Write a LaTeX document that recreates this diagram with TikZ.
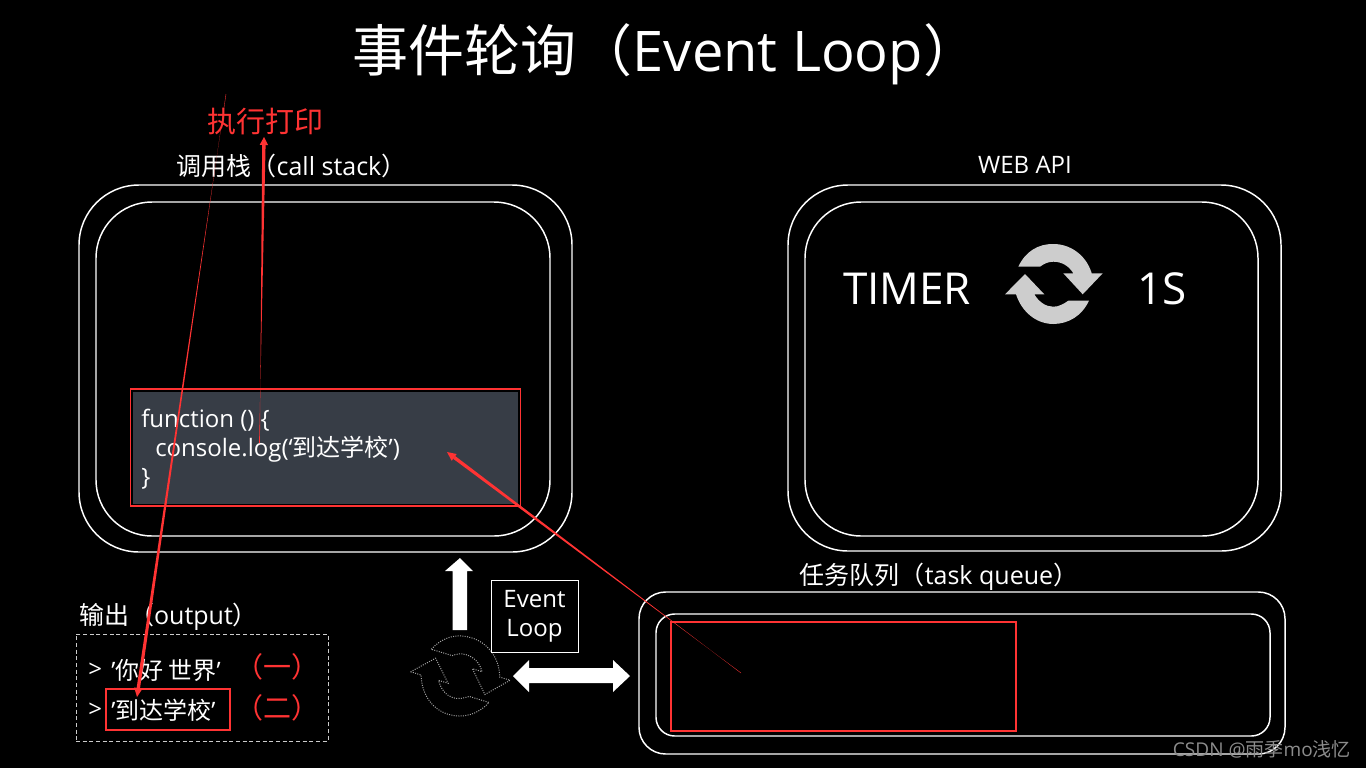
\documentclass[tikz,border=0pt]{standalone}
\usepackage{fontspec}
\setmainfont{Open Sans}
\newfontfamily\cjk{Noto Sans CJK SC}
\usetikzlibrary{calc}
\definecolor{redline}{HTML}{FF3333}
\definecolor{codebg}{HTML}{373D46}
\definecolor{icongrey}{HTML}{CDCDCD}
\def\u{0.75pt}
\newcommand{\fs}[1]{\fontsize{\the\dimexpr #1pt*3/4\relax}{\the\dimexpr #1pt*9/10\relax}\selectfont}
\newcommand{\cj}[1]{{\cjk #1}}
\newcommand{\iconpath}{
  (-35.5,-17.1) .. controls (-28,-33) and (-15,-40) .. (-0.5,-39.8)
  .. controls (15,-40) and (32,-30) .. (37.9,-10.5)
  -- (48.9,-10.5) -- (28.9,10.5) -- (9.5,-10.5) -- (19.5,-10.5)
  .. controls (15,-18) and (8,-22) .. (-0.5,-22.1)
  .. controls (-6,-22) and (-10,-20) .. (-13.8,-17.1) -- cycle
  (-48.8,10.5) -- (-28.8,-9.8) -- (-9.5,10.5) -- (-19.5,10.5)
  .. controls (-15,18) and (-8,23) .. (-0.5,22.9)
  .. controls (5,23) and (10,20) .. (14.5,16.9)
  -- (35.2,16.9) .. controls (28,32) and (15,40) .. (-0.5,40.2)
  .. controls (-18,40) and (-32,28) .. (-37.8,10.5) -- cycle}
% tapered arrow: start, tip, start half width, end half width, head half width, head length
\newcommand{\taperarrow}[6]{
  \coordinate (hb) at ($(#2)!#6*\u!(#1)$);
  \fill[redline] ($(#1)!#3*\u!90:(#2)$) -- ($(hb)!#4*\u!-90:(#2)$) -- ($(hb)!#4*\u!90:(#2)$) -- ($(#1)!#3*\u!-90:(#2)$) -- cycle;
  \fill[redline] (#2) -- ($(hb)!#5*\u!90:(#2)$) -- ($(hb)!#5*\u!-90:(#2)$) -- cycle;
}
\tikzset{
  panel/.style={draw=white,line width=1.1pt,inner sep=0pt,rectangle},
  redbox/.style={draw=redline,line width=0.8pt,inner sep=0pt,rectangle},
  label/.style={text=white,inner sep=0pt},
  redlabel/.style={text=redline,inner sep=0pt},
}
\begin{document}
\begin{tikzpicture}[x=0.75pt,y=-0.75pt]
\useasboundingbox (0,0) rectangle (1366,768);
\fill[black] (0,0) rectangle (1366,768);

% title
\node[label,font=\fs{56}] (title) at (666,54) {\cj{事件轮询（}Event Loop\cj{）}};

% panels
\node[panel,rounded corners=45pt,minimum width=493*\u,minimum height=367*\u] (stackouter) at (325.5,368.5) {};
\node[panel,rounded corners=42pt,minimum width=454*\u,minimum height=334*\u] (stackinner) at (323,369) {};
\node[panel,rounded corners=45pt,minimum width=493*\u,minimum height=366*\u] (webouter) at (1034.5,368) {};
\node[panel,rounded corners=42pt,minimum width=453*\u,minimum height=334*\u] (webinner) at (1031.5,369) {};
\node[panel,rounded corners=20pt,minimum width=646*\u,minimum height=162*\u] (queueouter) at (962,673) {};
\node[panel,rounded corners=14pt,minimum width=614*\u,minimum height=122*\u] (queueinner) at (963,675) {};
\node[redbox,minimum width=345*\u,minimum height=109*\u] (queuered) at (843.5,676.5) {};

% panel headings
\node[label,font=\fs{25}] (stacklabel) at (291.5,166) {\cj{调用栈（}call stack\cj{）}};
\node[label,font=\fs{24}] (weblabel) at (1025,165) {WEB API};
\node[label,font=\fs{25}] (queuelabel) at (939,577) {\cj{任务队列（}task queue\cj{）}};
\node[label,font=\fs{25}] (outputlabel) at (168.5,617) {\cj{输出（}output\cj{）}};

% code block
\node[fill=codebg,draw=none,inner sep=0pt,rectangle,minimum width=385*\u,minimum height=112*\u] (codefill) at (325.5,447.5) {};
\node[redbox,minimum width=390*\u,minimum height=117*\u] (codebox) at (325.5,447.5) {};
\node[label,font=\fs{24},anchor=west,align=left] (code) at (141,449) {\fontsize{18pt}{23.25pt}\selectfont function () \{\\\hspace*{10.5pt}console.log(‘\cj{到达学校}’)\\\}};

% web api content
\node[label,font=\fs{44}] (timer) at (907,289) {TIMER};
\node[label,font=\fs{44}] (onesec) at (1162,289) {1S};
\fill[icongrey,shift={(1053.8,283.8)}] \iconpath;

% output
\node[draw=white!80!black,densely dashed,line width=0.6pt,inner sep=0pt,rectangle,minimum width=252*\u,minimum height=107*\u] (outputbox) at (202,687.5) {};
\node[label,font=\fs{24},anchor=west] (gt1) at (88,670) {>};
\node[label,font=\fs{24},anchor=west] (out1) at (111,670) {’\cj{你好 世界}’};
\node[label,font=\fs{24},anchor=west] (gt2) at (88,710) {>};
\node[label,font=\fs{24},anchor=west] (out2) at (111,710) {’\cj{到达学校}’};
\node[redbox,minimum width=124*\u,minimum height=41*\u] (outred) at (168,709.5) {};
\node[redlabel,font=\fs{28}] (step1) at (277,667) {\cj{（一）}};
\node[redlabel,font=\fs{28}] (step2) at (277,708) {\cj{（二）}};

% event loop
\begin{scope}[shift={(460.3,676)},rotate=-17]
\draw[icongrey!80!black,densely dotted,line width=0.75pt] \iconpath;
\end{scope}
\node[draw=white,line width=0.75pt,text=white,font=\fs{24},align=center,inner sep=0pt,rectangle,minimum width=87*\u,minimum height=72*\u] (eventloop) at (534.5,616) {\fontsize{18pt}{23.25pt}\selectfont Event\\Loop};
\fill[white] (460,558) -- (473,571) -- (467,571) -- (467,630) -- (452.5,630) -- (452.5,571) -- (445,571) -- cycle;
\fill[white] (513,676) -- (529,660) -- (529,668) -- (613,668) -- (613,660) -- (630,676) -- (613,692) -- (613,683) -- (529,683) -- (529,692) -- cycle;

% red connectors
\node[redlabel,font=\fs{29}] (print) at (265,122) {\cj{执行打印}};
\coordinate (logstart) at (259.5,443);
\coordinate (printtip) at (264,137);
\taperarrow{logstart}{printtip}{0.4}{1.7}{4.2}{8}
\coordinate (thinstart) at (226,94);
\coordinate (thintip) at (137,697);
\taperarrow{thinstart}{thintip}{0.2}{1.7}{4.2}{9}
\coordinate (queuestart) at (741,673);
\coordinate (codetip) at (447,452);
\taperarrow{queuestart}{codetip}{0.2}{1.7}{4.2}{9}

% watermark
\node[text=white!55!black,inner sep=0pt,anchor=east,font=\fs{19}] (mark) at (1351,749) {CSDN @\cj{雨季}mo\cj{浅忆}};
\end{tikzpicture}
\end{document}
